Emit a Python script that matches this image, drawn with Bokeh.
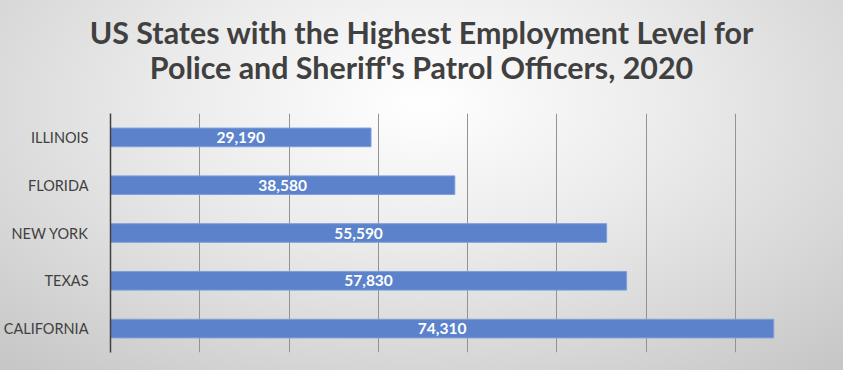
from bokeh.plotting import figure
from bokeh.models import FactorRange, Range1d, FixedTicker, ColumnDataSource, Div
from bokeh.layouts import column
from bokeh.core.properties import value
from bokeh.embed import file_html
from bokeh.resources import INLINE

# Data (top to bottom as in the chart)
states = ["ILLINOIS", "FLORIDA", "NEW YORK", "TEXAS", "CALIFORNIA"]
employment = [29190, 38580, 55590, 57830, 74310]
grid_ticks = [0, 10000, 20000, 30000, 40000, 50000, 60000, 70000, 80000]
title_line1 = "US States with the Highest Employment Level for"
title_line2 = "Police and Sheriff's Patrol Officers, 2020"

labels = [f"{v:,}" for v in employment]
src = ColumnDataSource(dict(
    state=states,
    value=employment,
    half=[v / 2 for v in employment],
    label=labels,
))

W, H = 843, 370
TITLE_H = 113
ML, MR, MB = 105, 19, 18

title_div = Div(
    text=(
        '<div style="padding-top:15px;margin:0;font-family:Lato;font-weight:bold;'
        'font-size:30.4px;line-height:34.6px;color:#404040;text-align:center;'
        f'width:{W}px;">{title_line1}<br>{title_line2}</div>'
    ),
    width=W, height=TITLE_H,
    styles={"margin": "0", "padding": "0"},
)

p = figure(
    width=W, height=H - TITLE_H,
    y_range=FactorRange(factors=list(reversed(states)), range_padding=0),
    x_range=Range1d(0, 80000),
    output_backend="svg", toolbar_location=None,
    min_border_left=ML, min_border_right=MR,
    min_border_top=0, min_border_bottom=MB,
    background_fill_color=None, border_fill_color=None,
    outline_line_color=None,
)

p.hbar(y="state", right="value", left=0, height=0.39, source=src,
       fill_color="#5B82CB", line_color="#7D9FDB", line_width=1)

p.text(x="half", y="state", text="label", source=src,
       text_align="center", text_baseline="middle",
       text_color="white", text_font=value("Lato"),
       text_font_style="bold", text_font_size="15.5px")

p.xaxis.visible = False
p.xgrid.ticker = FixedTicker(ticks=grid_ticks)
p.xgrid.grid_line_color = "#939393"
p.xgrid.grid_line_width = 1
p.ygrid.grid_line_color = None

ya = p.yaxis[0]
ya.axis_line_color = "#404040"
ya.axis_line_width = 1.5
ya.major_tick_line_color = None
ya.minor_tick_line_color = None
ya.major_label_standoff = 16
ya.major_label_text_font = "Lato"
ya.major_label_text_font_size = "14.5px"
ya.major_label_text_color = "#404040"

layout = column(
    title_div, p, spacing=0,
    styles={
        "background-image": "radial-gradient(ellipse 75% 95% at 50% 28%, #ffffff 0%, #ebebeb 40%, #d6d6d6 75%, #c6c6c6 100%)",
    },
)

open("out.html", "w").write(file_html(layout, INLINE))
